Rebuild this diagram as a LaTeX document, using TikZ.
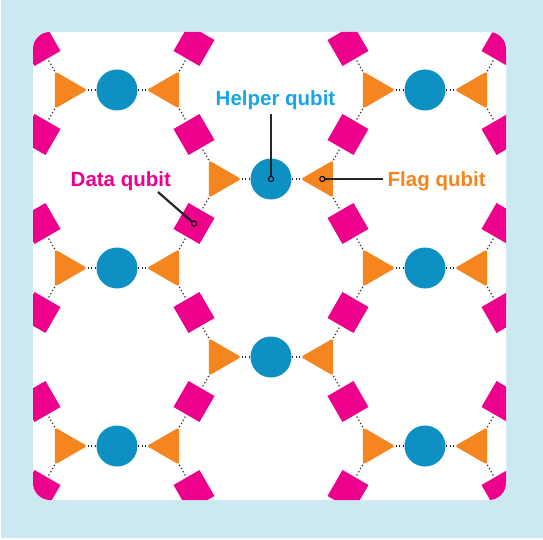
\documentclass[tikz,border=0pt]{standalone}
\usepackage{fontspec}
\setmainfont{Liberation Sans}
\usetikzlibrary{shapes.geometric}
\definecolor{bgblue}{HTML}{CCE9F1}
\definecolor{helperblue}{HTML}{0E90C2}
\definecolor{helpertext}{HTML}{17A5E6}
\definecolor{flagorange}{HTML}{F5851F}
\definecolor{datamag}{HTML}{EC008C}
\begin{document}
\begin{tikzpicture}[x=1pt,y=-1pt,
  helper/.style={circle, fill=helperblue, minimum size=41pt, inner sep=0pt},
  flag/.style={regular polygon, regular polygon sides=3, fill=flagorange, minimum size=43pt, inner sep=0pt, rounded corners=2.5pt},
  data/.style={rectangle, fill=datamag, minimum size=30pt, inner sep=0pt},
  link/.style={line width=1.2pt, dash pattern=on 1.2pt off 2.4pt, black!85},
  pointer/.style={line width=2.2pt, black!85, shorten >=2.6pt},
  ring/.style={line width=1pt, black},
  lab/.style={font=\fontsize{20.5}{24}\selectfont\bfseries, inner sep=0pt}]
\useasboundingbox (0,0) rectangle (543,540);
\fill[white] (0,0) rectangle (543,540);
\fill[bgblue] (1,0) rectangle (543,538);
\fill[white, rounded corners=17pt] (33,32) rectangle (506,500);
\begin{scope}
\clip[rounded corners=17pt] (33,32) rectangle (506,500);
% helper qubits and flag qubits
\foreach \c/\r in {0/0,2/0,1/1,0/2,2/2,1/3,0/4,2/4}{
  \pgfmathsetmacro{\hx}{117+154*\c}
  \pgfmathsetmacro{\hy}{90+89*\r}
  \node[helper] (h-\c-\r) at (\hx,\hy) {};
  \node[flag, rotate=-90] (fl-\c-\r) at (\hx-51.33,\hy) {};
  \node[flag, rotate=90] (fr-\c-\r) at (\hx+51.33,\hy) {};
}
% data qubits
\foreach \a in {0,...,3}{\foreach \b in {0,...,5}{
  \pgfmathsetmacro{\rot}{30*(1-2*mod(\a+\b,2))}
  \node[data, rotate=\rot] (d-\a-\b) at (40+154*\a, 45.5+89*\b) {};
}}
% links
\foreach \c/\r in {0/0,2/0,1/1,0/2,2/2,1/3,0/4,2/4}{
  \pgfmathtruncatemacro{\ar}{\c+1}
  \pgfmathtruncatemacro{\rb}{\r+1}
  \draw[link] (fl-\c-\r) -- (h-\c-\r);
  \draw[link] (fr-\c-\r) -- (h-\c-\r);
  \draw[link] (fl-\c-\r) -- (d-\c-\r);
  \draw[link] (fl-\c-\r) -- (d-\c-\rb);
  \draw[link] (fr-\c-\r) -- (d-\ar-\r);
  \draw[link] (fr-\c-\r) -- (d-\ar-\rb);
}
\end{scope}
% labels
\node[lab, text=helpertext, anchor=base] (hl) at (275.5,106) {Helper qubit};
\node[lab, text=flagorange, anchor=base west] (fq) at (387.5,186) {Flag qubit};
\node[lab, text=datamag, anchor=base west] (dq) at (70.5,186) {Data qubit};
% pointers
\coordinate (hp) at (271,114);
\coordinate (fp) at (383,179);
\coordinate (dp) at (158,192);
\draw[pointer] (hp) -- (h-1-1.center);
\draw[ring] (h-1-1.center) circle (2.6pt);
\draw[pointer] (fp) -- (fr-1-1.center);
\draw[ring] (fr-1-1.center) circle (2.6pt);
\draw[pointer] (dp) -- (d-1-2.center);
\draw[ring] (d-1-2.center) circle (2.6pt);
\end{tikzpicture}
\end{document}
